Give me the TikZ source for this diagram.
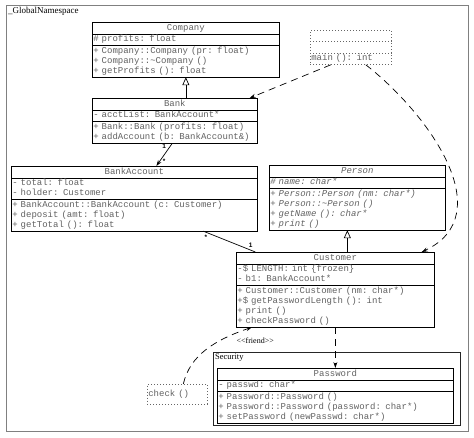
\documentclass[tikz,border=0pt]{standalone}
\usepackage{fontspec}
\setmainfont{Liberation Serif}
\setmonofont{Liberation Mono}
\newfontfamily\multfont{Liberation Sans}
\usetikzlibrary{shapes.multipart, arrows.meta}

\newcommand{\cpart}[1]{\noindent\strut#1\strut}
\newcommand{\chead}[1]{\noindent\strut\hspace*{\fill}#1\hspace*{\fill}\strut}

\tikzstyle{umlclass} = [rectangle split, rectangle split parts=3,
    anchor=north west, draw=black, line width=0.7pt, text=black!62,
    inner xsep=1pt, inner ysep=0.4pt, align=left,
    font=\fontsize{9}{10}\selectfont\ttfamily]
\tikzstyle{umlabstract} = [umlclass,
    font=\fontsize{9}{10}\selectfont\ttfamily\itshape]
\tikzstyle{utilbox} = [rectangle split, rectangle split parts=3,
    anchor=north west, draw=black!60, line width=0.6pt,
    dash pattern=on 0.7pt off 2.3pt, text=black!62,
    inner xsep=1pt, inner ysep=0.4pt, align=left,
    font=\fontsize{9}{10}\selectfont\ttfamily]
\tikzstyle{nsframe} = [rectangle, anchor=north west, inner sep=0pt,
    draw=black!50, line width=1.2pt]
\tikzstyle{pkgframe} = [rectangle, anchor=north west, inner sep=0pt,
    draw=black!85, line width=0.8pt]
\tikzstyle{framelabel} = [anchor=north west, inner sep=2pt]
\tikzstyle{mult} = [inner sep=1pt, font=\multfont\bfseries\fontsize{6.5}{7}\selectfont]
\tikzstyle{genarrow} = [line width=0.7pt, -{Triangle[open, length=8pt, width=7pt]}]
\tikzstyle{navarrow} = [line width=0.7pt, -{Stealth[length=6pt, width=4pt]}]
\tikzstyle{assocline} = [line width=0.7pt]
\tikzstyle{deparrow} = [line width=0.7pt, dash pattern=on 7pt off 5pt,
    -{Stealth[length=6pt, width=4pt]}]

\begin{document}
\begin{tikzpicture}[x=1pt, y=1pt]

        \useasboundingbox (0,0) rectangle (474,-437);

        % Frames
        \node (globalns) [nsframe, minimum width=462pt, minimum height=426pt] at (6,-5) {};
        \node (globalnslbl) [framelabel, font=\fontsize{9}{10}\selectfont] at (globalns.north west) {\_GlobalNamespace};

        \node (security) [pkgframe, minimum width=247pt, minimum height=73pt] at (213,-352) {};
        \node (securitylbl) [framelabel, font=\fontsize{8.5}{10}\selectfont] at (security.north west) {Security};

        % Classes
        \node (company) [umlclass, text width=185pt] at (92,-22)
            {\chead{Company}
             \nodepart{two}\cpart{\# profits: float}
             \nodepart{three}\cpart{+ Company::Company (pr: float)\\+ Company::\textasciitilde Company ()\\+ getProfits (): float}};

        \node (mainfn) [utilbox, text width=79pt] at (310,-30)
            {\cpart{}
             \nodepart{two}\cpart{}
             \nodepart{three}\cpart{main (): int}};

        \node (bank) [umlclass, text width=163pt] at (92,-98)
            {\chead{Bank}
             \nodepart{two}\cpart{- acctList: BankAccount*}
             \nodepart{three}\cpart{+ Bank::Bank (profits: float)\\+ addAccount (b: BankAccount\&)}};

        \node (bankaccount) [umlclass, text width=244pt] at (11,-166)
            {\chead{BankAccount}
             \nodepart{two}\cpart{- total: float\\- holder: Customer}
             \nodepart{three}\cpart{+ BankAccount::BankAccount (c: Customer)\\+ deposit (amt: float)\\+ getTotal (): float}};

        \node (person) [umlabstract, text width=174pt] at (269,-165)
            {\chead{Person}
             \nodepart{two}\cpart{\# name: char*}
             \nodepart{three}\cpart{+ Person::Person (nm: char*)\\+ Person::\textasciitilde Person ()\\+ getName (): char*\\+ print ()}};

        \node (customer) [umlclass, text width=196pt] at (236,-252)
            {\chead{Customer}
             \nodepart{two}\cpart{-\$ LENGTH: int \{frozen\}\\- b1: BankAccount*}
             \nodepart{three}\cpart{+ Customer::Customer (nm: char*)\\+\$ getPasswordLength (): int\\+ print ()\\+ checkPassword ()}};

        \node (checkfn) [utilbox, rectangle split parts=1, text width=58pt, inner ysep=4.5pt] at (147,-384)
            {\cpart{check ()}};

        \node (password) [umlclass, text width=234pt] at (217,-368)
            {\chead{Password}
             \nodepart{two}\cpart{- passwd: char*}
             \nodepart{three}\cpart{+ Password::Password ()\\+ Password::Password (password: char*)\\+ setPassword (newPasswd: char*)}};

        % Arrows
        \coordinate (persongen) at ([xshift=-10pt]person.south);

        \draw [genarrow] (company.south |- bank.north) -- (company.south);
        \draw [navarrow] ([xshift=-2.5pt]bank.south) --
            node (mbankone) [mult, pos=0.12, left=3pt] {1}
            node (mbankmany) [mult, pos=0.8, right=2pt] {*}
            ([xshift=22pt]bankaccount.north);
        \draw [assocline] ([xshift=69pt]bankaccount.south) --
            node (maccmany) [mult, pos=0.1, below left] {*}
            node (maccone) [mult, pos=0.85, above right] {1}
            ([xshift=-80pt]customer.north);
        \draw [genarrow] (customer.north -| persongen) -- (persongen);
        \draw [deparrow] ([xshift=-20pt]mainfn.south) -- ([xshift=-8pt]bank.north east);
        \draw [deparrow] ([xshift=15pt]mainfn.south) .. controls (430,-115) and (500,-215) .. ([xshift=-13pt]customer.north east);
        \draw [deparrow] (customer.south) -- (password.north);
        \draw [deparrow] ([xshift=6pt]checkfn.north) .. controls (190,-355) and (215,-340) ..
            node (friendlbl) [pos=0.8, anchor=north west, inner sep=2pt, xshift=3pt, font=\fontsize{8}{9}\selectfont] {<\kern0pt<friend>\kern0pt>}
            ([xshift=16pt]customer.south west);

\end{tikzpicture}
\end{document}
